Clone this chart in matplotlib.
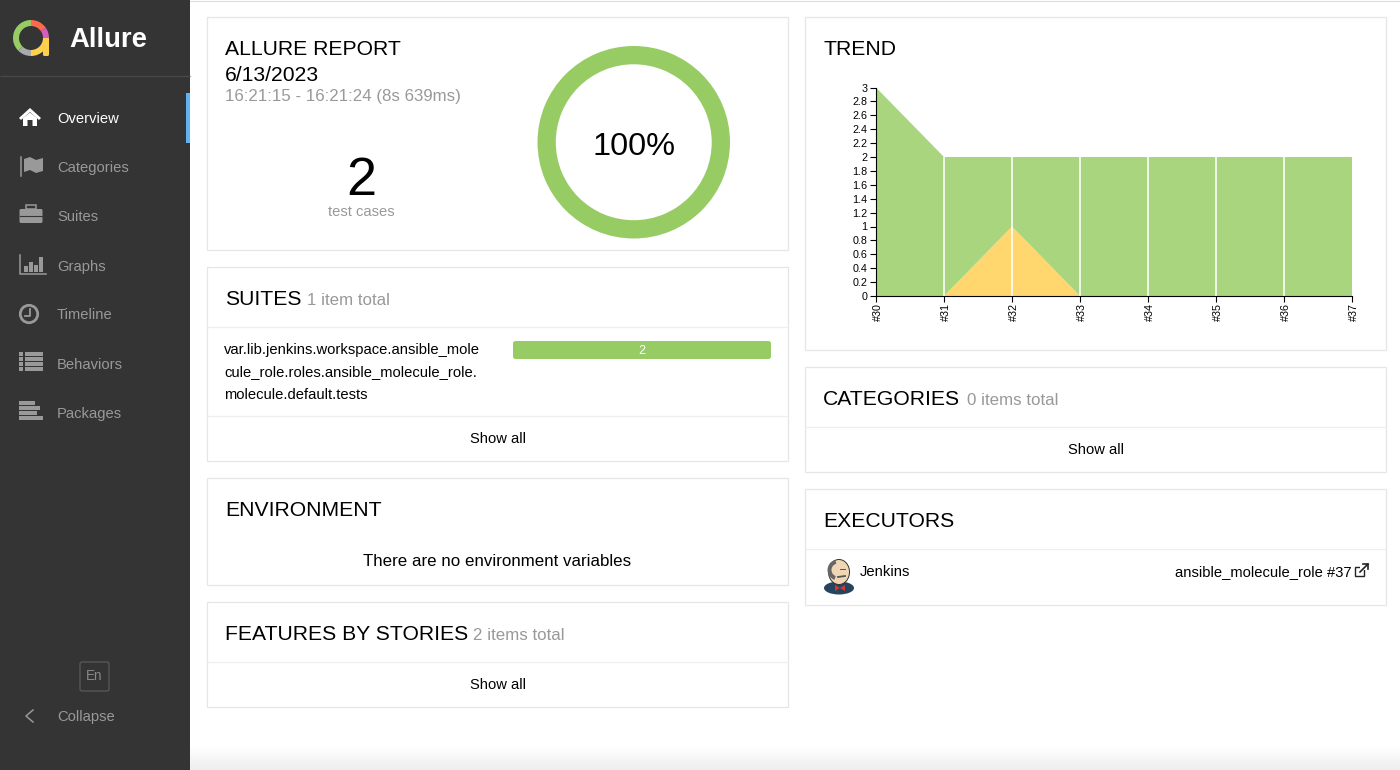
#!/usr/bin/env python3
"""Allure report overview page, drawn on a pixel canvas with real charts on top."""

import numpy as np
import matplotlib
matplotlib.use("Agg")
import matplotlib.pyplot as plt
from matplotlib.patches import Circle, Ellipse, FancyBboxPatch, Polygon, Rectangle, Wedge
from matplotlib.transforms import Affine2D, ScaledTranslation

plt.rcParams["font.family"] = ["Liberation Sans", "DejaVu Sans"]

W, H = 1400, 770
DPI = 100

# data
builds = ["#30", "#31", "#32", "#33", "#34", "#35", "#36", "#37"]
broken = [0, 0, 1, 0, 0, 0, 0, 0]
passed = [3, 2, 1, 2, 2, 2, 2, 2]
y_ticks = [0, 0.2, 0.4, 0.6, 0.8, 1, 1.2, 1.4, 1.6, 1.8, 2, 2.2, 2.4, 2.6, 2.8, 3]
status_values = [2]
suite_counts = [2]
nav_items = ["Overview", "Categories", "Suites", "Graphs", "Timeline", "Behaviors", "Packages"]

GREEN = "#97cc64"
AREA_GREEN = "#a8d57e"
AREA_YELLOW = "#ffd76e"
SIDEBAR = "#343434"
NAV_GREY = "#999999"
TEXT_GREY = "#999999"
BORDER = "#e6e6e6"

HEAD_PX = 21.2
GREY_PX = 16.9
BODY_PX = 14.8


def pt(px):
    return px * 72 / DPI


def axes_px(fig, x0, y0, x1, y1):
    """Axes from pixel box, y counted from the top."""
    return fig.add_axes([x0 / W, 1 - y1 / H, (x1 - x0) / W, (y1 - y0) / H])


def label(ax, x, y, s, px=GREY_PX, color="#000000", ha="left", **kw):
    ax.text(x, y, s, fontsize=pt(px), color=color, ha=ha, va="baseline", **kw)


def card(ax, x0, y0, x1, y1, dividers=()):
    ax.add_patch(Rectangle((x0, y0), x1 - x0, y1 - y0, fc="white", ec=BORDER, lw=0.9, zorder=1))
    for y in dividers:
        ax.plot([x0, x1], [y, y], color="#eeeeee", lw=0.9, zorder=2)


def draw_logo(ax, cx, cy):
    # canvas y points down, so wedge angles run clockwise on screen
    segments = [(135, 270, "#97cc64"), (270, 325, "#ff6a4d"), (325, 360, "#d35ebe"),
                (0, 90, "#ffd050"), (90, 135, "#aaaaaa")]
    for start, end, color in segments:
        ax.add_patch(Wedge((cx, cy), 18, start, end, width=6, fc=color, ec="none", zorder=3))
    ax.add_patch(FancyBboxPatch((cx + 12, cy), 6, 18, boxstyle="round,pad=0,rounding_size=1.5",
                                fc="#ffd050", ec="none", zorder=3))


def draw_nav_icons(ax):
    c = NAV_GREY
    # house
    ax.add_patch(Polygon([(19, 118), (30, 108), (41, 118), (39, 120), (30, 112), (21, 120)],
                         fc="white", ec="none", zorder=3))
    ax.add_patch(Polygon([(23, 118), (30, 112.5), (37, 118), (37, 126), (32.5, 126), (32.5, 120),
                          (27.5, 120), (27.5, 126), (23, 126)], fc="white", ec="none", zorder=3))
    # flag
    ax.plot([21, 21], [157, 176], color=c, lw=1.1, zorder=3)
    ax.add_patch(Polygon([(24, 159), (30, 157), (36, 160), (43, 158), (43, 171), (36, 173),
                          (30, 170), (24, 172)], fc=c, ec="none", zorder=3))
    # briefcase
    ax.add_patch(FancyBboxPatch((19.5, 209), 23, 14, boxstyle="round,pad=0,rounding_size=1.5",
                                fc=c, ec="none", zorder=3))
    ax.add_patch(Rectangle((26, 205), 10, 4, fc="none", ec=c, lw=1.1, zorder=3))
    ax.plot([19.5, 42.5], [215.5, 215.5], color=SIDEBAR, lw=0.8, zorder=4)
    # graph
    ax.plot([19.5, 19.5, 46], [255, 274, 274], color=c, lw=1.1, zorder=3)
    for x, top in zip([24, 29, 34, 39], [266, 262, 265, 257]):
        ax.add_patch(Rectangle((x, top), 3.5, 272 - top, fc=c, ec="none", zorder=3))
    # clock
    ax.add_patch(Circle((29, 314), 8.7, fc="none", ec=c, lw=2.0, zorder=3))
    ax.plot([29.5, 29.5, 25], [309, 316, 316], color=c, lw=1.3, zorder=3)
    # list
    for y in [354, 359, 364, 369]:
        ax.add_patch(Rectangle((19, y - 1.7), 4, 3.4, fc=c, ec="none", zorder=3))
        ax.add_patch(Rectangle((25, y - 1.7), 17.5, 3.4, fc=c, ec="none", zorder=3))
    # packages
    for y, right in zip([403, 408, 413, 418], [35, 40, 37, 42.5]):
        ax.add_patch(Rectangle((19, y - 1.7), right - 19, 3.4, fc=c, ec="none", zorder=3))


def draw_sidebar(ax):
    ax.add_patch(Rectangle((0, 0), 190, H, fc=SIDEBAR, ec="none", zorder=2))
    ax.plot([0, 189.5], [75.5, 75.5], color="#484848", lw=1.0, zorder=3, solid_capstyle="butt")
    ax.add_patch(Rectangle((186, 93), 4, 50, fc="#5fb3f5", ec="none", zorder=3))
    draw_logo(ax, 31, 38)
    label(ax, 69.5, 47, "Allure", px=27.5, color="white", fontweight="bold", zorder=4)
    draw_nav_icons(ax)
    for name, y in zip(nav_items, [123, 172, 221, 271, 319, 369, 418]):
        label(ax, 57, y, name, px=BODY_PX, color="white" if name == "Overview" else NAV_GREY, zorder=4)
    ax.add_patch(FancyBboxPatch((80, 662), 29, 29, boxstyle="round,pad=0,rounding_size=2",
                                fc="none", ec="#5a5a5a", lw=0.9, zorder=3))
    label(ax, 94.5, 680, "En", px=13.5, color="#888888", ha="center", zorder=4)
    ax.plot([33, 26, 33], [710, 716, 722], color=NAV_GREY, lw=1.1, zorder=3)
    label(ax, 57, 721, "Collapse", px=BODY_PX, color=NAV_GREY, zorder=4)


def draw_jenkins(ax, cx, cy):
    ax.add_patch(Ellipse((cx, cy + 14), 30, 13, fc="#27445f", ec="none", zorder=3))
    ax.add_patch(Ellipse((cx, cy - 2), 21, 25, fc="#f0d6b5", ec="#333333", lw=0.7, zorder=4))
    ax.add_patch(Wedge((cx - 1, cy - 4), 10.5, 110, 255, width=4, fc="#666666", ec="none", zorder=5))
    ax.plot([cx - 1, cx + 6], [cy + 3, cy + 2], color="#555555", lw=1.3, zorder=5)
    ax.plot([cx + 1, cx + 6], [cy - 5, cy - 5], color="#555555", lw=0.7, zorder=5)
    ax.add_patch(Polygon([(cx - 4, cy + 11), (cx + 1, cy + 14), (cx + 6, cy + 11), (cx + 6, cy + 17),
                          (cx + 1, cy + 14), (cx - 4, cy + 17)], fc="#d33833", ec="none", zorder=6))


def draw_page(ax):
    ax.axis("off")

    # fade at the bottom of the page
    fade = np.linspace(1.0, 0.93, 25).reshape(-1, 1)
    ax.imshow(fade, extent=(190, W, 770, 745), cmap="gray", vmin=0, vmax=1, aspect="auto", zorder=0)
    ax.set_xlim(0, W)
    ax.set_ylim(H, 0)
    ax.plot([190, W], [0.5, 0.5], color="#dddddd", lw=0.8, zorder=1)

    card(ax, 207, 17, 788, 250)
    card(ax, 207, 267, 788, 461, dividers=[327, 416])
    card(ax, 207, 478, 788, 585)
    card(ax, 207, 602, 788, 707, dividers=[662])
    card(ax, 805, 17, 1386, 350)
    card(ax, 805, 367, 1386, 472, dividers=[427])
    card(ax, 805, 489, 1386, 605, dividers=[549])

    label(ax, 225, 55, "ALLURE REPORT", px=HEAD_PX, zorder=4)
    label(ax, 225, 81, "6/13/2023", px=HEAD_PX, zorder=4)
    label(ax, 225, 101, "16:21:15 - 16:21:24 (8s 639ms)", color=TEXT_GREY, zorder=4)
    label(ax, 361, 195, "2", px=54, ha="center", zorder=4)
    label(ax, 361, 216, "test cases", px=BODY_PX, color=TEXT_GREY, ha="center", zorder=4)

    label(ax, 225, 305, "SUITES", px=HEAD_PX, zorder=4)
    label(ax, 307, 305, "1 item total", color=TEXT_GREY, zorder=4)
    for y, s in zip([354, 376, 399], ["var.lib.jenkins.workspace.ansible_mole",
                                      "cule_role.roles.ansible_molecule_role.",
                                      "molecule.default.tests"]):
        label(ax, 224, y, s, px=BODY_PX, zorder=4)
    label(ax, 497.5, 443, "Show all", px=BODY_PX, ha="center", zorder=4)

    label(ax, 225, 516, "ENVIRONMENT", px=HEAD_PX, zorder=4)
    label(ax, 497.5, 566, "There are no environment variables", ha="center", zorder=4)

    label(ax, 225, 640, "FEATURES BY STORIES", px=HEAD_PX, zorder=4)
    label(ax, 473, 640, "2 items total", color=TEXT_GREY, zorder=4)
    label(ax, 497.5, 689, "Show all", px=BODY_PX, ha="center", zorder=4)

    label(ax, 823, 55, "TREND", px=HEAD_PX, zorder=4)
    label(ax, 823, 405, "CATEGORIES", px=HEAD_PX, zorder=4)
    label(ax, 967, 405, "0 items total", color=TEXT_GREY, zorder=4)
    label(ax, 1095.5, 454, "Show all", px=BODY_PX, ha="center", zorder=4)

    label(ax, 823, 527, "EXECUTORS", px=HEAD_PX, zorder=4)
    draw_jenkins(ax, 839, 574)
    label(ax, 860, 576, "Jenkins", px=BODY_PX, zorder=4)
    label(ax, 1352, 576, "ansible_molecule_role #37", px=BODY_PX, ha="right", zorder=4)
    # external link icon
    ax.add_patch(Rectangle((1355, 567), 9, 9, fc="none", ec="#222222", lw=1.0, zorder=4))
    ax.add_patch(Rectangle((1360, 563), 8, 7, fc="white", ec="none", zorder=5))
    ax.plot([1360, 1368], [572, 564], color="#222222", lw=1.2, zorder=6)
    ax.plot([1363, 1368, 1368], [564, 564, 569], color="#222222", lw=1.2, zorder=6)

    draw_sidebar(ax)


def draw_donut(fig):
    ax = axes_px(fig, 537.5, 46, 730, 238.5)
    ax.pie(status_values, colors=[GREEN], radius=1.0, startangle=90,
           wedgeprops={"width": 0.19, "linewidth": 0})
    ax.set_xlim(-1, 1)
    ax.set_ylim(-1, 1)
    ax.text(0, -0.05, "100%", fontsize=pt(32.5), ha="center", va="center", color="black")


def draw_suite_bar(fig):
    ax = axes_px(fig, 513, 341, 771, 359)
    bars = ax.barh([0], suite_counts, height=1.0, color=GREEN)
    ax.set_xlim(0, sum(suite_counts))
    ax.set_ylim(-0.5, 0.5)
    ax.axis("off")
    # rounded ends: clip the bar to a rounded box in display pixels
    clip = FancyBboxPatch((0, 0), 258, 18, boxstyle="round,pad=0,rounding_size=2.5",
                          transform=Affine2D().translate(513, H - 359))
    bars[0].set_clip_path(clip)
    ax.text(suite_counts[0] / 2, -0.03, str(suite_counts[0]), fontsize=pt(12.5),
            ha="center", va="center", color="white")


def draw_trend(fig):
    ax = axes_px(fig, 876, 87.5, 1352, 296)
    x = np.arange(len(builds))
    ax.stackplot(x, broken, passed, colors=[AREA_YELLOW, AREA_GREEN], linewidth=0)
    totals = np.array(broken) + np.array(passed)
    ax.vlines(x[1:-1], 0, totals[1:-1], color="#ffffff", lw=1.3, alpha=0.9)
    ax.set_xlim(0, len(builds) - 1)
    ax.set_ylim(0, 3)
    ax.patch.set_alpha(0)
    ax.set_xticks(x)
    ax.set_xticklabels(builds, rotation=90)
    ax.set_yticks(y_ticks)
    ax.set_yticklabels([f"{t:g}" for t in y_ticks])
    ax.tick_params(axis="both", length=pt(6), width=0.8, labelsize=pt(10.8), pad=pt(2.5), color="black")
    ax.tick_params(axis="x", pad=pt(1))
    # rotated labels sit a little left of their ticks otherwise
    shift = ScaledTranslation(2 / DPI, 0, fig.dpi_scale_trans)
    for tick_label in ax.get_xticklabels():
        tick_label.set_transform(tick_label.get_transform() + shift)
    for side in ["top", "right"]:
        ax.spines[side].set_visible(False)
    for side in ["left", "bottom"]:
        ax.spines[side].set_linewidth(0.8)


def main():
    fig = plt.figure(figsize=(W / DPI, H / DPI), dpi=DPI, facecolor="white")
    page = fig.add_axes([0, 0, 1, 1])
    draw_page(page)
    draw_donut(fig)
    draw_suite_bar(fig)
    draw_trend(fig)
    fig.savefig("out.png", dpi=DPI)
    plt.close(fig)


if __name__ == "__main__":
    main()
